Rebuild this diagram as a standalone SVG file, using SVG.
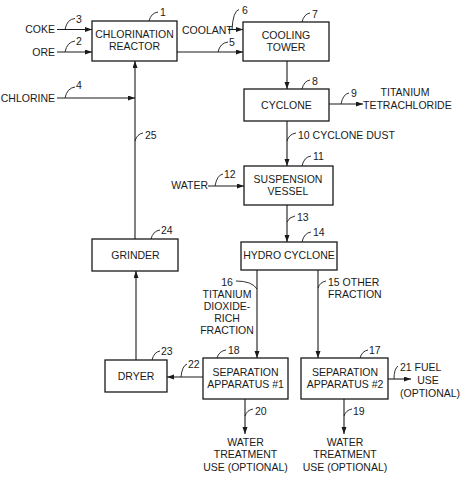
<svg xmlns="http://www.w3.org/2000/svg" width="474" height="483" viewBox="0 0 474 483">
<defs>
<marker id="ah" markerUnits="userSpaceOnUse" markerWidth="8" markerHeight="6" refX="7" refY="2.5" orient="auto">
<path d="M0,0 L7,2.5 L0,5 z" fill="#1a1a1a"/>
</marker>
<style>
rect{fill:#fff;stroke:#1a1a1a;stroke-width:1.3}
text{font-family:"Liberation Sans",Arial,sans-serif;font-size:10.5px;fill:#1a1a1a}
.c{text-anchor:middle}
.e{text-anchor:end}
.ln{fill:none;stroke:#1a1a1a;stroke-width:1.1}
.ar{marker-end:url(#ah)}
.ld{fill:none;stroke:#1a1a1a;stroke-width:0.9}
</style>
</defs>
<rect width="474" height="483" fill="#fff" style="stroke:none"/>

<g id="connectors">
<path class="ln ar" d="M57,29.5 H92"/>
<path class="ln ar" d="M57,52 H92"/>
<path class="ln ar" d="M57,98 H135"/>
<path class="ln ar" d="M135,239 V61"/>
<path class="ln ar" d="M228,29.5 H243"/>
<path class="ln ar" d="M177,52 H243"/>
<path class="ln ar" d="M287,61 V89"/>
<path class="ln ar" d="M329,104 H363"/>
<path class="ln ar" d="M287,121 V166"/>
<path class="ln ar" d="M208,186 H244"/>
<path class="ln ar" d="M287,205 V242"/>
<path class="ln ar" d="M257,270 V358"/>
<path class="ln ar" d="M318,270 V358"/>
<path class="ln ar" d="M203,377 H167"/>
<path class="ln ar" d="M136,360 V271"/>
<path class="ln ar" d="M245,399 V434"/>
<path class="ln ar" d="M344,399 V434"/>
<path class="ln ar" d="M388,379 H411"/>
<!-- leader curves -->
<path class="ld" d="M65,29.5 Q67,19 75,18.5"/>
<path class="ld" d="M65,52 Q67,42 75,41"/>
<path class="ld" d="M65,98 Q67,88 75,87"/>
<path class="ld" d="M149,21 Q151,13 158,12"/>
<path class="ld" d="M232,29.5 Q233,11 239,9.5"/>
<path class="ld" d="M302,22 Q304,14 310,13"/>
<path class="ld" d="M218,52 Q220,43 228,42"/>
<path class="ld" d="M302,89 Q304,81 310,80"/>
<path class="ld" d="M341,104 Q343,94 349,93"/>
<path class="ld" d="M287,141 Q289,134 296,133"/>
<path class="ld" d="M302,166 Q304,157 311,156"/>
<path class="ld" d="M215,186 Q217,175 223,174"/>
<path class="ld" d="M287,222 Q289,217 295,216"/>
<path class="ld" d="M302,242 Q304,233 311,232"/>
<path class="ld" d="M135,141 Q137,134 143,133"/>
<path class="ld" d="M151,239 Q153,231 160,230"/>
<path class="ld" d="M236,281 Q252,281 257,289"/>
<path class="ld" d="M318,288 Q320,282 326,281"/>
<path class="ld" d="M217,358 Q219,351 226,350"/>
<path class="ld" d="M360,358 Q362,351 368,350"/>
<path class="ld" d="M152,360 Q154,352 160,351"/>
<path class="ld" d="M181,377 Q182,366 187,364"/>
<path class="ld" d="M394,379 Q394,369 398,366"/>
<path class="ld" d="M245,416 Q247,410 253,409"/>
<path class="ld" d="M344,416 Q346,410 352,409"/>
</g>

<g id="inputs">
<text class="e" x="55" y="33">COKE</text>
<text class="e" x="55" y="55.5">ORE</text>
<text class="e" x="55" y="101.5">CHLORINE</text>
<text x="76" y="22.5">3</text>
<text x="76" y="44.5">2</text>
<text x="76" y="89">4</text>
<text x="182" y="34">COOLANT</text>
<text x="242" y="14">6</text>
<text x="229" y="46">5</text>
<text x="145" y="138.5">25</text>
</g>

<g id="n1">
<rect x="92" y="21" width="85" height="40"/>
<text class="c" x="134.5" y="37.5">CHLORINATION</text>
<text class="c" x="134.5" y="50">REACTOR</text>
<text x="160" y="16">1</text>
</g>

<g id="n7">
<rect x="243" y="22" width="86" height="39"/>
<text class="c" x="286" y="39">COOLING</text>
<text class="c" x="286" y="50.5">TOWER</text>
<text x="312" y="17.5">7</text>
</g>

<g id="n8">
<rect x="244" y="89" width="85" height="32"/>
<text class="c" x="286.5" y="108.5">CYCLONE</text>
<text x="312" y="84.5">8</text>
<text x="351" y="97">9</text>
<text class="c" x="405" y="96">TITANIUM</text>
<text x="363" y="108.5">TETRACHLORIDE</text>
<text x="298" y="138.5">10 CYCLONE DUST</text>
</g>

<g id="n11">
<rect x="244" y="166" width="89" height="39"/>
<text class="c" x="288" y="183">SUSPENSION</text>
<text class="c" x="288" y="194.5">VESSEL</text>
<text x="313" y="160">11</text>
<text class="e" x="208" y="189">WATER</text>
<text x="224" y="177.5">12</text>
<text x="297" y="221">13</text>
</g>

<g id="n14">
<rect x="241" y="242" width="96" height="28"/>
<text class="c" x="289" y="258.5">HYDRO CYCLONE</text>
<text x="313" y="235.5">14</text>
<text class="c" x="227" y="285.5">16</text>
<text class="c" x="227" y="298">TITANIUM</text>
<text class="c" x="227" y="310">DIOXIDE-</text>
<text class="c" x="227" y="322">RICH</text>
<text class="c" x="227" y="334">FRACTION</text>
<text x="328" y="286">15 OTHER</text>
<text x="328" y="298">FRACTION</text>
</g>

<g id="n24">
<rect x="92" y="239" width="86" height="32"/>
<text class="c" x="135.5" y="258.5">GRINDER</text>
<text x="161" y="234">24</text>
</g>

<g id="n23">
<rect x="105" y="360" width="62" height="32"/>
<text class="c" x="136" y="379.5">DRYER</text>
<text x="161" y="355">23</text>
<text x="188" y="368">22</text>
</g>

<g id="n18">
<rect x="203" y="358" width="85" height="41"/>
<text class="c" x="245.5" y="376">SEPARATION</text>
<text class="c" x="245.5" y="388">APPARATUS #1</text>
<text x="228" y="353.5">18</text>
<text x="255" y="415">20</text>
<text class="c" x="245.5" y="445.5">WATER</text>
<text class="c" x="245.5" y="458">TREATMENT</text>
<text class="c" x="245.5" y="470.5">USE (OPTIONAL)</text>
</g>

<g id="n17">
<rect x="301" y="358" width="87" height="41"/>
<text class="c" x="345" y="376">SEPARATION</text>
<text class="c" x="345" y="388">APPARATUS #2</text>
<text x="369" y="353.5">17</text>
<text x="353" y="415">19</text>
<text class="c" x="345" y="445.5">WATER</text>
<text class="c" x="345" y="458">TREATMENT</text>
<text class="c" x="345" y="470.5">USE (OPTIONAL)</text>
<text x="400" y="371">21 FUEL</text>
<text class="c" x="428" y="384">USE</text>
<text x="400" y="396.5">(OPTIONAL)</text>
</g>
</svg>
